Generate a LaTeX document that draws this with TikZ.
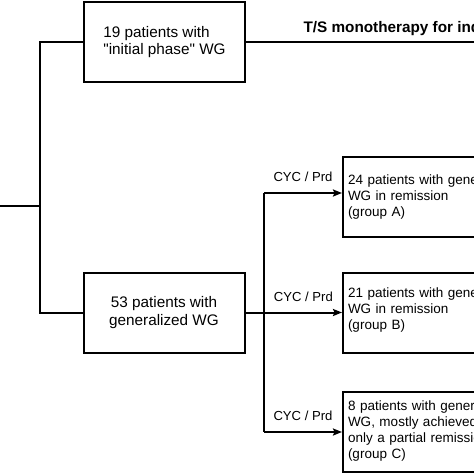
\documentclass[tikz,border=0pt]{standalone}
\usepackage{fontspec}
\setmainfont{Liberation Sans}[Ligatures=TeXOff]
\usetikzlibrary{arrows.meta}
\tikzset{
  conn/.style={line width=2pt},
  arr/.style={conn,-{Stealth[length=9pt,width=7pt,inset=1.5pt]}},
  bigbox/.style={draw,line width=2pt,minimum width=161pt,minimum height=80pt,inner sep=0pt,
    font=\fontsize{15.3pt}{17.5pt}\selectfont},
  grpbox/.style={draw,line width=2pt,minimum width=200pt,minimum height=80pt,inner sep=5pt,
    text width=190pt,align=left,font=\fontsize{13.5pt}{16pt}\selectfont},
  treat/.style={font=\fontsize{13.1pt}{15pt}\selectfont},
  title/.style={font=\bfseries\fontsize{15.3pt}{17pt}\selectfont}
}
\begin{document}
\begin{tikzpicture}[x=1pt,y=-1pt]
\useasboundingbox (0,0) rectangle (474,474);
\clip (0,0) rectangle (474,474);
\node[bigbox,align=left] (b1) at (164.5,42) {19 patients with\\"initial phase" WG};
\node[bigbox,align=center] (b2) at (164,312.5) {53 patients with\\generalized WG};
\node[grpbox] (bA) at (443,197) {24 patients with generalized\\WG in remission\\(group A)};
\node[grpbox] (bB) at (443,312.5) {21 patients with generalized\\WG in remission\\(group B)\\[-8pt]\mbox{}};
\node[grpbox] (bC) at (443,431.5) {8 patients with generalized\\WG, mostly achieved\\only a partial remission\\(group C)};
\coordinate (st) at (-2,206);
\coordinate (sp) at (40,206);
\coordinate (tsend) at (480,42);
\coordinate (jA) at (264,193);
\coordinate (jC) at (264,432);
% left spine
\draw[conn] (b1.west) -| (sp) |- (b2.west);
\draw[conn] (st) -- (sp);
% T/S line
\draw[conn] (b1.east) -- (tsend);
\node[title,anchor=base west] (ts) at (300,32.5) {T/S monotherapy for induction};
% right branch
\draw[conn] (jA) -- (jC);
\draw[arr] (jA) -- node[treat,midway,yshift=16pt] (lA) {CYC / Prd} (jA -| bA.west);
\draw[arr] (b2.east) -- node[treat,pos=0.6,yshift=16pt] (lB) {CYC / Prd} (bB.west);
\draw[arr] (jC) -- node[treat,midway,yshift=16pt] (lC) {CYC / Prd} (jC -| bC.west);
\end{tikzpicture}
\end{document}
